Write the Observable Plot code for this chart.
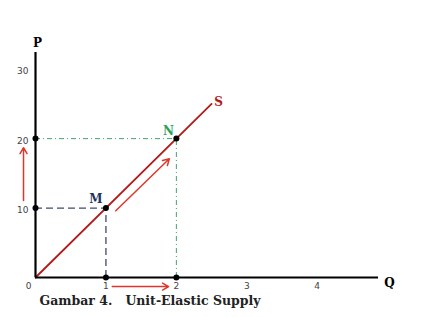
<!DOCTYPE html>
<html><head><meta charset="utf-8">
<script src="https://cdn.jsdelivr.net/npm/d3@7"></script>
<script src="https://cdn.jsdelivr.net/npm/@observablehq/plot@0.6"></script>
<style>
body{margin:0;background:#fff;}
#chart{width:448px;height:317px;overflow:hidden;}
</style></head>
<body><div id="chart"></div>
<script>
// Data
const supplyQ = [0, 2.5];
const supplyP = [0, 25];
const pointNames = ["M", "N"];
const pointQ = [1, 2];
const pointP = [10, 20];
const tickQ = [1, 2, 3, 4];
const tickP = [10, 20, 30];
const axisMaxQ = 4.87;
const axisMaxP = 32.4;
// arrows (data units)
const arrowP = {x1: -0.17, y1: 11.1, x2: -0.17, y2: 18.7};
const arrowQ = {x1: 1.09, y1: -1.3, x2: 1.89, y2: -1.3};
const arrowS = {x1: 1.14, y1: 9.6, x2: 1.9, y2: 17.1};
const captionText = "Gambar 4.   Unit-Elastic Supply";

const supply = supplyQ.map((q, i) => ({q, p: supplyP[i]}));
const pts = pointNames.map((n, i) => ({name: n, q: pointQ[i], p: pointP[i]}));
const M = pts[0], N = pts[1];
const dots = [
  {q: 0, p: M.p}, {q: M.q, p: M.p}, {q: M.q, p: 0},
  {q: 0, p: N.p}, {q: N.q, p: N.p}, {q: N.q, p: 0}
];
const serif = "'DejaVu Serif', serif";
const sans = "'DejaVu Sans', sans-serif";
const red = "#e0352b";
const dark = "#b31b1b";

const plot = Plot.plot({
  width: 448, height: 317,
  marginLeft: 35, marginRight: 70, marginTop: 52, marginBottom: 40,
  x: {domain: [0, axisMaxQ], axis: null},
  y: {domain: [0, axisMaxP], axis: null},
  style: {fontFamily: sans, background: "#fff", overflow: "visible"},
  marks: [
    // guide lines
    Plot.ruleY([M.p], {x1: 0, x2: M.q, stroke: "#3f4b6e", strokeWidth: 1.3, strokeDasharray: "7,4"}),
    Plot.ruleX([M.q], {y1: 0, y2: M.p, stroke: "#3f4b6e", strokeWidth: 1.3, strokeDasharray: "7,4"}),
    Plot.ruleY([N.p], {x1: 0, x2: N.q, stroke: "#3fa56e", strokeWidth: 1, strokeDasharray: "5,3,1,3"}),
    Plot.ruleX([N.q], {y1: 0, y2: N.p, stroke: "#3fa56e", strokeWidth: 1, strokeDasharray: "5,3,1,3"}),
    // supply line
    Plot.line(supply, {x: "q", y: "p", stroke: dark, strokeWidth: 1.8}),
    // axes
    Plot.ruleX([0], {y1: 0, y2: axisMaxP, stroke: "#000", strokeWidth: 2.2}),
    Plot.ruleY([0], {x1: 0, x2: axisMaxQ, stroke: "#000", strokeWidth: 2.2}),
    // dots
    Plot.dot(dots, {x: "q", y: "p", r: 3, fill: "#000", stroke: "none"}),
    // arrows
    Plot.arrow([arrowP, arrowQ, arrowS], {x1: "x1", y1: "y1", x2: "x2", y2: "y2", stroke: red, strokeWidth: 1.5, headLength: 7}),
    // tick labels
    Plot.text(tickQ, {x: d => d, y: 0, dy: 9, text: d => String(d), fontSize: 9, fill: "#444"}),
    Plot.text([0], {x: 0, y: 0, dx: -7, dy: 9, text: d => String(d), fontSize: 9, fill: "#444"}),
    Plot.text(tickP, {x: 0, y: d => d, dx: -7, dy: 2, text: d => String(d), textAnchor: "end", fontSize: 9, fill: "#444"}),
    // point labels
    Plot.text([M], {x: "q", y: "p", text: "name", dx: -10, dy: -9, fill: "#1f3160", fontWeight: "bold", fontSize: 12, fontFamily: serif}),
    Plot.text([N], {x: "q", y: "p", text: "name", dx: -8, dy: -7, fill: "#2aa25a", fontWeight: "bold", fontSize: 12, fontFamily: serif}),
    Plot.text([supply[1]], {x: "q", y: "p", text: () => "S", dx: 7, dy: -2, fill: dark, fontWeight: "bold", fontSize: 12, fontFamily: serif}),
    // axis titles
    Plot.text(["P"], {x: 0, y: axisMaxP, text: d => d, dx: 2, dy: -9, fill: "#000", fontWeight: "bold", fontSize: 12, fontFamily: serif}),
    Plot.text(["Q"], {x: axisMaxQ, y: 0, text: d => d, dx: 11, dy: 6, fill: "#000", fontWeight: "bold", fontSize: 12, fontFamily: serif}),
    // caption
    Plot.text([captionText], {frameAnchor: "bottom-left", text: d => d, textAnchor: "start", dx: 4, dy: 27, fill: "#222", fontWeight: "bold", fontSize: 12.5, fontFamily: serif})
  ]
});
document.getElementById("chart").appendChild(plot);
</script>
</body></html>
